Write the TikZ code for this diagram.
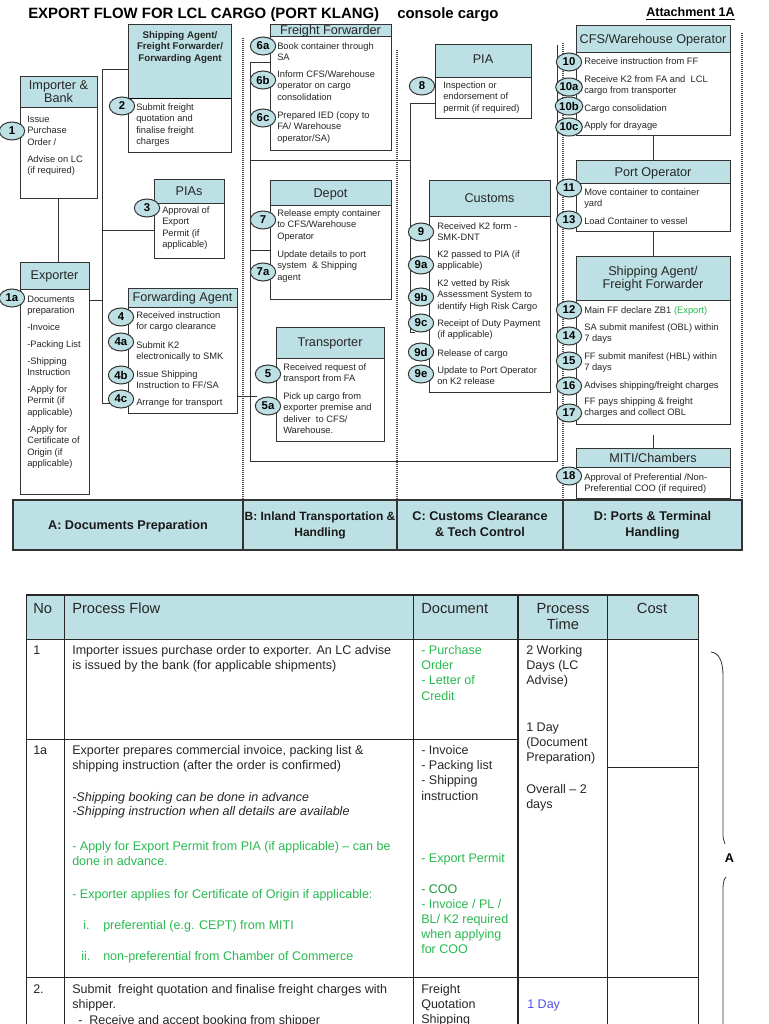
\documentclass[tikz,border=0pt]{standalone}
\usepackage{fontspec}
\setmainfont{Liberation Sans}
\usetikzlibrary{shapes.geometric,fit,calc}
\definecolor{tl}{HTML}{BDE0E4}
\definecolor{lc}{HTML}{333333}
\definecolor{gr}{RGB}{40,185,80}
\definecolor{dgr}{RGB}{30,150,60}
\definecolor{bl}{RGB}{80,80,235}
\newcommand\FL{\rule{0pt}{9pt}}
\newcommand\mkbox[6]{%
 \node[bdy, fit={(#2,#5) (#3,#6)}] (#1b) {};
 \node[hdr, fit={(#2,#4) (#3,#5)}] (#1) {};}
\tikzset{
 fl/.style={yshift=9pt, execute at begin node={\rule{0pt}{9pt}}},
 hdr/.style={draw=lc, fill=tl, line width=0.75pt, inner sep=0pt},
 bdy/.style={draw=lc, fill=white, line width=0.75pt, inner sep=0pt},
 htx/.style={anchor=north, fl, align=center, inner sep=0pt, text=black!85, font=\fontsize{9.5}{9.75}\selectfont},
 num/.style={ellipse, draw=lc, fill=tl, line width=0.75pt, inner sep=0pt, minimum width=19pt, minimum height=13.5pt, font=\fontsize{8.5}{9}\selectfont\bfseries},
 txt/.style={anchor=north west, fl, align=left, inner sep=0pt, text=black!85, font=\fontsize{7}{8.6}\selectfont},
 conn/.style={draw=lc, line width=0.75pt},
 sepl/.style={draw=black!70, line width=0.9pt, dash pattern=on 0.75pt off 0.75pt},
 band/.style={draw=lc, fill=tl, line width=0.9pt, inner sep=0pt},
 btx/.style={anchor=north, fl, align=center, inner sep=0pt, text=black!90, font=\fontsize{9.5}{12}\selectfont\bfseries},
 tb/.style={anchor=north west, fl, align=left, inner sep=0pt, text=black!85, font=\fontsize{9.4}{11.3}\selectfont},
 th/.style={anchor=north west, fl, align=left, inner sep=0pt, text=black!85, font=\fontsize{11}{12}\selectfont},
 tline/.style={draw=black!85, line width=0.75pt},
}
\begin{document}
\begin{tikzpicture}[x=0.75pt, y=-0.75pt]
\useasboundingbox (0,0) rectangle (768,1024);
\clip (0,0) rectangle (768,1024);

% title
\node[anchor=north west, fl, inner sep=0pt, font=\fontsize{11.2}{12}\selectfont\bfseries] (title) at (28,18) {EXPORT FLOW FOR LCL CARGO (PORT KLANG)};
\node[anchor=north west, fl, inner sep=0pt, font=\fontsize{11.2}{12}\selectfont\bfseries] (title2) at (397,18) {console cargo};
\node[anchor=base east, inner sep=0pt, font=\fontsize{9.4}{10}\selectfont\bfseries] (att) at (735,17) {\underline{Attachment 1A}};

% dotted column separators
\draw[sepl] (243,38) -- (243,500);
\draw[sepl] (397,50) -- (397,500);
\draw[sepl] (563,43) -- (563,500);
\draw[sepl] (742,33) -- (742,500);

% ---------- junction points ----------
\coordinate (jA) at (102,70);
\coordinate (jB) at (250,63);
\coordinate (jB1) at (250,461);
\coordinate (jB2) at (557,461);
\coordinate (jD) at (557,45);
\coordinate (jC) at (410,160);
\coordinate (jC1) at (410,103);
\coordinate (jC2) at (410,332);
\coordinate (jC3) at (415,332);
\coordinate (jB3) at (250,250);
\coordinate (jF) at (257,396);

% ---------- A column ----------
\mkbox{imp}{20}{97}{77}{107}{198}
\node[htx] (impt) at (58.5,89) {\FL Importer \&\\Bank};
\node[txt] (impx) at (27,122) {\FL Issue\\Purchase\\Order /\\[4pt]Advise on LC\\(if required)};

\mkbox{sa}{128}{231}{25}{98}{152}
\draw[black, line width=1.3pt] (sa.south west) -- (sa.south east);
\node[htx, font=\fontsize{7.3}{8.6}\selectfont\bfseries] (sat) at (180,38) {\FL Shipping Agent/\\Freight Forwarder/\\Forwarding Agent};
\node[txt] (sax) at (136,110) {\FL Submit freight\\quotation and\\finalise freight\\charges};

\mkbox{pias}{154}{224}{179}{203}{258}
\node[htx] (piast) at (189,195) {PIAs};
\node[txt] (piasx) at (162,213) {\FL Approval of\\Export\\Permit (if\\applicable)};

\mkbox{exp}{20}{89}{262}{289}{494}
\node[htx] (expt) at (54.5,279) {Exporter};
\node[txt] (expx) at (27,302) {\FL Documents\\preparation\\[4pt]-Invoice\\[4pt]-Packing List\\[4pt]-Shipping\\Instruction\\[4pt]-Apply for\\Permit (if\\applicable)\\[4pt]-Apply for\\Certificate of\\Origin (if\\applicable)};

\mkbox{fa}{128}{237}{288}{307}{413}
\node[htx] (fat) at (182.5,301) {Forwarding Agent};
\node[txt] (fax1) at (136,318) {\FL Received instruction\\for cargo clearance};
\node[txt] (fax2) at (136,348) {\FL Submit K2\\electronically to SMK};
\node[txt] (fax3) at (136,377) {\FL Issue Shipping\\Instruction to FF/SA};
\node[txt] (fax4) at (136,405) {Arrange for transport};

% ---------- B column ----------
\mkbox{ff}{270}{391}{25}{37}{150}
\node[htx] (fft) at (330.5,34) {Freight Forwarder};
\node[txt] (ffx1) at (277,49) {\FL Book container through\\SA};
\node[txt] (ffx2) at (277,77) {\FL Inform CFS/Warehouse\\operator on cargo\\consolidation};
\node[txt] (ffx3) at (277,118) {\FL Prepared IED (copy to\\FA/ Warehouse\\operator/SA)};

\mkbox{dep}{270}{391}{180}{205}{299}
\node[htx] (dept) at (330.5,197) {Depot};
\node[txt] (depx1) at (277,216) {\FL Release empty container\\to CFS/Warehouse\\Operator};
\node[txt] (depx2) at (277,257) {\FL Update details to port\\system~~\& Shipping\\agent};

\mkbox{tr}{276}{384}{327}{358}{441}
\node[htx] (trt) at (330,346) {Transporter};
\node[txt] (trx1) at (283,370) {\FL Received request of\\transport from FA};
\node[txt] (trx2) at (283,399) {\FL Pick up cargo from\\exporter premise and\\deliver~~to CFS/\\Warehouse.};

% ---------- C column ----------
\mkbox{pia}{435}{531}{45}{78}{118}
\node[htx] (piat) at (483,63) {PIA};
\node[txt] (piax) at (443,88) {\FL Inspection or\\endorsement of\\permit (if required)};

\mkbox{cus}{429}{550}{180}{216}{392}
\node[htx] (cust) at (489.5,202) {Customs};
\node[txt] (cusx1) at (437,229) {\FL Received K2 form -\\SMK-DNT};
\node[txt] (cusx2) at (437,257) {\FL K2 passed to PIA (if\\applicable)};
\node[txt] (cusx3) at (437,286) {\FL K2 vetted by Risk\\Assessment System to\\identify High Risk Cargo};
\node[txt] (cusx4) at (437,326) {\FL Receipt of Duty Payment\\(if applicable)};
\node[txt] (cusx5) at (437,356) {Release of cargo};
\node[txt] (cusx6) at (437,373) {\FL Update to Port Operator\\on K2 release};

% ---------- D column ----------
\mkbox{cfs}{576}{730}{26}{53}{135}
\node[htx] (cfst) at (653,43) {CFS/Warehouse Operator};
\node[txt] (cfsx1) at (584,64) {Receive instruction from FF};
\node[txt] (cfsx2) at (584,82) {\FL Receive K2 from FA and~~LCL\\cargo from transporter};
\node[txt] (cfsx3) at (584,111) {Cargo consolidation};
\node[txt] (cfsx4) at (584,128) {Apply for drayage};

\mkbox{po}{576}{730}{160}{183}{231}
\node[htx] (pot) at (653,176) {Port Operator};
\node[txt] (pox1) at (584,195) {\FL Move container to container\\yard};
\node[txt] (pox2) at (584,224) {Load Container to vessel};

\mkbox{sh}{576}{730}{256}{300}{424}
\node[htx] (sht) at (653,275) {\FL Shipping Agent/\\Freight Forwarder};
\node[txt] (shx1) at (584,313) {Main FF declare ZB1 {\color{gr}(Export)}};
\node[txt] (shx2) at (584,330) {\FL SA submit manifest (OBL) within\\7 days};
\node[txt] (shx3) at (584,359) {\FL FF submit manifest (HBL) within\\7 days};
\node[txt] (shx4) at (584,388) {Advises shipping/freight charges};
\node[txt] (shx5) at (584,404) {\FL FF pays shipping \& freight\\charges and collect OBL};

\mkbox{mi}{576}{730}{448}{467}{498}
\node[htx] (mit) at (653,462) {MITI/Chambers};
\node[txt] (mix) at (584,480) {\FL Approval of Preferential /Non-\\Preferential COO (if required)};

% ---------- connectors ----------
\draw[conn] (impb.south) -- (impb.south |- exp.north);
\draw[conn] (sa.west |- jA) -- (jA) -- (jA |- 0,403) -- (112,403);
\draw[conn] (jA |- piasb.west) -- (piasb.west);
\draw[conn] (expb.north east |- 0,300) -- (jA |- 0,300);
\draw[conn] (ffb.west |- jB) -- (jB) -- (jB1) -- (jB2) -- (jD);
\draw[conn] (jB |- jC) -- (jC);
\draw[conn] (piab.west |- jC1) -- (jC1) -- (jC2) -- (jC3);
\draw[conn] (jB3) -- (depb.west |- jB3);
\draw[conn] (fab.east |- jF) -- (jF);
\draw[conn] (cfsb.south) -- (po.north);
\draw[conn] (pob.south) -- (sh.north);
\draw[conn] ($(shb.south)+(0,10)$) -- (mi.north);

% ---------- number badges ----------
\node[num] (c1) at (12,131) {1};
\node[num] (c2) at (122,106) {2};
\node[num] (c3) at (147,208) {3};
\node[num] (c1a) at (12,298) {1a};
\node[num] (c4) at (121,317) {4};
\node[num] (c4a) at (121,342) {4a};
\node[num] (c4b) at (121,375) {4b};
\node[num] (c4c) at (121,399) {4c};
\node[num] (c6a) at (263,46) {6a};
\node[num] (c6b) at (263,80) {6b};
\node[num] (c6c) at (263,118) {6c};
\node[num] (c7) at (263,220) {7};
\node[num] (c7a) at (263,272) {7a};
\node[num] (c5) at (268,374) {5};
\node[num] (c5a) at (268,406) {5a};
\node[num] (c8) at (422,86) {8};
\node[num] (c9) at (421,232) {9};
\node[num] (c9a) at (421,265) {9a};
\node[num] (c9b) at (421,297) {9b};
\node[num] (c9c) at (421,323) {9c};
\node[num] (c9d) at (421,352) {9d};
\node[num] (c9e) at (421,374) {9e};
\node[num] (c10) at (569,62) {10};
\node[num] (c10a) at (569,87) {10a};
\node[num] (c10b) at (569,106) {10b};
\node[num] (c10c) at (569,127) {10c};
\node[num] (c11) at (569,188) {11};
\node[num] (c13) at (569,220) {13};
\node[num] (c12) at (569,310) {12};
\node[num] (c14) at (569,336) {14};
\node[num] (c15) at (569,361) {15};
\node[num] (c16) at (569,386) {16};
\node[num] (c17) at (569,413) {17};
\node[num] (c18) at (569,476) {18};

% ---------- band ----------
\node[band, fit={(13,500) (243,550)}] (bandA) {};
\node[band, fit={(243,500) (397,550)}] (bandB) {};
\node[band, fit={(397,500) (563,550)}] (bandC) {};
\node[band, fit={(563,500) (742,550)}] (bandD) {};
\node[btx] (bandAt) at (128,529) {A: Documents Preparation};
\node[btx, font=\fontsize{9}{12}\selectfont\bfseries] (bandBt) at (320,520) {\FL B: Inland Transportation \&\\Handling};
\node[btx] (bandCt) at (480,520) {\FL C: Customs Clearance\\\& Tech Control};
\node[btx] (bandDt) at (652.5,520) {\FL D: Ports \& Terminal\\Handling};

% ---------- table ----------
\fill[tl] (26,595) rectangle (698,639);
\draw[tline, line width=1pt] (26,595) -- (698,595);
\draw[tline] (26,639) -- (698,639);
\draw[tline] (26,739) -- (518,739);
\draw[tline] (607,767) -- (698,767);
\draw[tline] (26,977) -- (698,977);
\draw[tline] (26,595) -- (26,1030);
\draw[tline] (64,595) -- (64,1030);
\draw[tline] (413,595) -- (413,1030);
\draw[tline, line width=1.2pt] (518,595) -- (518,1030);
\draw[tline] (607,595) -- (607,1030);
\draw[tline] (698,595) -- (698,1030);

\node[th] (hNo) at (33,613) {No};
\node[th] (hPF) at (72,613) {Process Flow};
\node[th] (hDoc) at (421,613) {Document};
\node[th, anchor=north, align=center] (hPT) at (563,613) {\FL Process\\Time};
\node[th, anchor=north] (hCost) at (652,613) {Cost};

\node[tb] (r1n) at (33,654) {1};
\node[tb] (r1p) at (72,654) {\FL Importer issues purchase order to exporter. An LC advise\\is issued by the bank (for applicable shipments)};
\node[tb, text=gr, font=\fontsize{9.4}{11.5}\selectfont] (r1d) at (421,654) {\FL - Purchase\\Order\\- Letter of\\Credit};
\node[tb, font=\fontsize{9.4}{11.5}\selectfont] (r1t1) at (526,654) {\FL 2 Working\\Days (LC\\Advise)};
\node[tb, font=\fontsize{9.4}{11.5}\selectfont] (r1t2) at (526,731) {\FL 1 Day\\(Document\\Preparation)};
\node[tb, font=\fontsize{9.4}{11.5}\selectfont] (r1t3) at (526,793) {\FL Overall – 2\\days};

\node[tb] (r2n) at (33,754) {1a};
\node[tb] (r2p1) at (72,754) {\FL Exporter prepares commercial invoice, packing list \&\\shipping instruction (after the order is confirmed)};
\node[tb, font=\fontsize{9.4}{11}\selectfont\itshape] (r2p2) at (72,801) {\FL -Shipping booking can be done in advance\\-Shipping instruction when all details are available};
\node[tb, text=gr] (r2p3) at (72,850) {\FL - Apply for Export Permit from PIA (if applicable) – can be\\done in advance.};
\node[tb, text=gr] (r2p4) at (72,898) {- Exporter applies for Certificate of Origin if applicable:};
\node[tb, text=gr] (r2i) at (83,929) {i.};
\node[tb, text=gr] (r2it) at (103,929) {preferential (e.g. CEPT) from MITI};
\node[tb, text=gr] (r2ii) at (81,960) {ii.};
\node[tb, text=gr] (r2iit) at (103,960) {non-preferential from Chamber of Commerce};
\node[tb, font=\fontsize{9.4}{11.5}\selectfont] (r2d1) at (421,754) {\FL - Invoice\\- Packing list\\- Shipping\\instruction};
\node[tb, text=gr] (r2d2) at (421,862) {- Export Permit};
\node[tb, text=dgr] (r2d3) at (421,893) {- COO};
\node[tb, text=gr] (r2d4) at (421,908) {\FL - Invoice / PL /\\BL/ K2 required\\when applying\\for COO};

\node[tb] (r3n) at (33,993) {2.};
\node[tb] (r3p1) at (72,993) {\FL Submit~~freight quotation and finalise freight charges with\\shipper.};
\node[tb] (r3p2) at (78,1024) {-~~Receive and accept booking from shipper};
\node[tb, font=\fontsize{9.4}{11.5}\selectfont] (r3d) at (421,993) {\FL Freight\\Quotation\\Shipping};
\node[tb, text=bl] (r3t) at (527,1008) {1 Day};

% brace
\draw[lc, line width=0.6pt] (711,652) .. controls (719,653) and (723,661) .. (723,676) -- (723,835) .. controls (723,839) and (724,841) .. (725,844);
\draw[lc, line width=0.6pt] (726,877) .. controls (724,879) and (723,882) .. (723,890) -- (723,1040);
\node[inner sep=0pt, font=\fontsize{9.5}{10}\selectfont\bfseries] (braceA) at (729.5,858) {A};
\end{tikzpicture}
\end{document}
